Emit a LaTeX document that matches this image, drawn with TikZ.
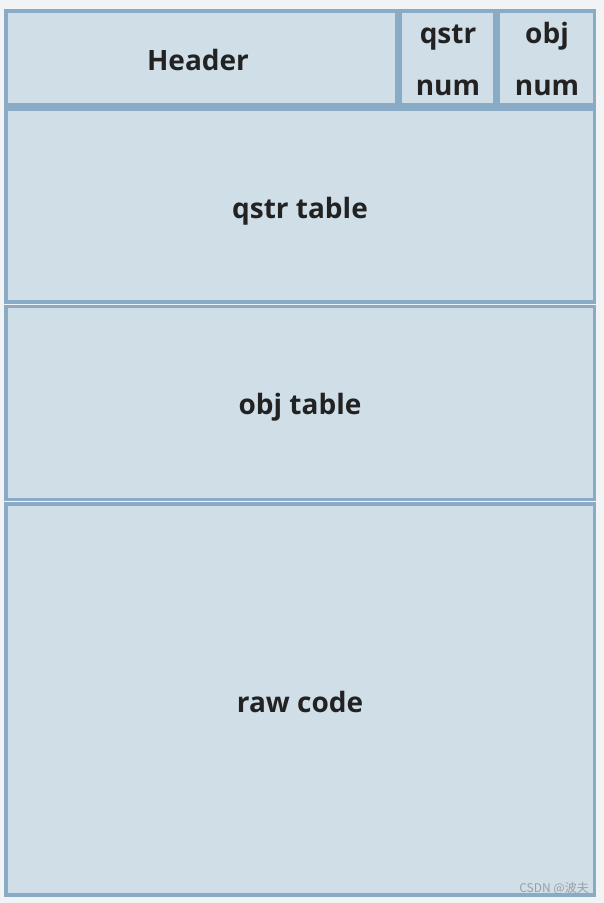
\documentclass[tikz,border=0pt]{standalone}
\usepackage{fontspec}
\setmainfont{Open Sans}
\newfontfamily\cjk{Noto Sans CJK SC}
\definecolor{bgc}{HTML}{F2F3F5}
\definecolor{boxfill}{HTML}{D0DEE8}
\definecolor{boxline}{HTML}{8AABC5}
\definecolor{txt}{HTML}{222222}
\definecolor{wmc}{HTML}{9A9FA6}
\tikzset{
  cell/.style={draw=boxline, fill=boxfill, line width=3.5pt},
  lbl/.style={text=txt, font=\fontsize{28}{32}\selectfont\bfseries, inner sep=0pt, anchor=base},
}
\begin{document}
\begin{tikzpicture}[x=1pt,y=-1pt]
\fill[bgc] (0,0) rectangle (604,903);
\useasboundingbox (0,0) rectangle (604,903);
% boxes (drawn with border inside own area)
\draw[cell] (5.75,10.75) rectangle (396.75,104.75);
\draw[cell] (400.25,10.75) rectangle (494.75,104.75);
\draw[cell] (498.25,10.75) rectangle (594.25,104.75);
\draw[cell] (5.75,108.75) rectangle (594.25,301.75);
\draw[cell] (5.75,306.25) rectangle (594.25,499.25);
\draw[cell] (5.75,503.75) rectangle (594.25,894.75);
% labels
\node[lbl] (hdr) at (198,70) {Header};
\node[lbl] (qn1) at (448,43) {qstr};
\node[lbl] (qn2) at (448,95) {num};
\node[lbl] (on1) at (547,43) {obj};
\node[lbl] (on2) at (547,95) {num};
\node[lbl] (qt) at (300,218) {qstr table};
\node[lbl] (ot) at (300,414) {obj table};
\node[lbl] (rc) at (300,712) {raw code};
\node[text=wmc, font=\cjk\fontsize{12}{13}\selectfont, inner sep=0pt, anchor=base east] (wm) at (589,892) {CSDN @波夫};
\end{tikzpicture}
\end{document}
